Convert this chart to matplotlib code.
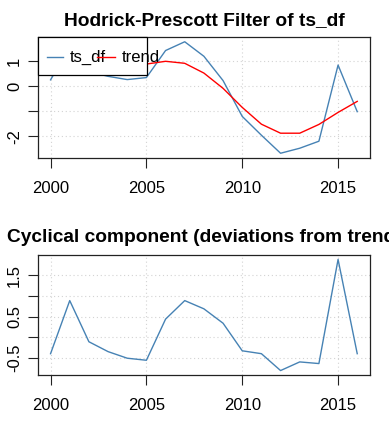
import matplotlib
matplotlib.use("Agg")
import matplotlib.pyplot as plt
import matplotlib.patches as patches

plt.rcParams['font.family'] = ['Liberation Sans', 'DejaVu Sans']

# data
years = list(range(2000, 2017))
ts_df = [0.26, 1.57, 0.59, 0.40, 0.27, 0.35, 1.43, 1.78, 1.20, 0.23,
         -1.20, -1.95, -2.67, -2.47, -2.19, 0.85, -1.01]
trend = [0.66, 0.69, 0.71, 0.75, 0.78, 0.89, 1.00, 0.92, 0.53, -0.08,
         -0.84, -1.51, -1.87, -1.87, -1.52, -1.04, -0.60]
cycle = [-0.40, 0.89, -0.11, -0.35, -0.51, -0.56, 0.44, 0.89, 0.69, 0.34,
         -0.33, -0.40, -0.81, -0.60, -0.64, 1.89, -0.40]

x_ticks = [2000, 2005, 2010, 2015]
top_yticks = [-2, -1, 0, 1]
top_ylabels = ['-2', '', '0', '1']
bot_yticks = [-0.5, 0.0, 0.5, 1.0, 1.5]
bot_ylabels = ['-0.5', '', '0.5', '', '1.5']

W, H = 389, 433
fig = plt.figure(figsize=(W / 100, H / 100), dpi=100)

def px_axes(l, t, r, b):
    return fig.add_axes([l / W, 1 - b / H, (r - l) / W, (b - t) / H])

ax1 = px_axes(38.3, 37.3, 369.5, 157.7)
ax2 = px_axes(38.3, 255.0, 369.5, 375.0)

def r_range(vals):
    lo, hi = min(vals), max(vals)
    d = (hi - lo) * 0.04
    return lo - d, hi + d

def style(ax, yticks, ylabels):
    ax.set_xlim(r_range(years))
    ax.set_xticks(x_ticks)
    ax.set_yticks(yticks)
    ax.set_yticklabels(ylabels)
    ax.tick_params(axis='both', length=7.2, width=0.8, labelsize=12,
                   color='#222222')
    ax.tick_params(axis='x', pad=9.5)
    ax.tick_params(axis='y', pad=4.5)
    for lab in ax.get_yticklabels():
        lab.set_rotation(90)
        lab.set_va('center')
    for s in ax.spines.values():
        s.set_linewidth(0.9)
        s.set_color('#222222')
    for x in x_ticks:
        ax.axvline(x, color='lightgray', ls=(0, (1, 2.5)), lw=0.8, zorder=0)
    for y in yticks:
        ax.axhline(y, color='lightgray', ls=(0, (1, 2.5)), lw=0.8, zorder=0)

# top: series and HP trend
ax1.plot(years, ts_df, color='steelblue', lw=1.0, zorder=2)
ax1.plot(years, trend, color='red', lw=1.0, zorder=2)
ax1.set_ylim(r_range(ts_df))
style(ax1, top_yticks, top_ylabels)
ax1.set_title('Hodrick-Prescott Filter of ts_df', fontsize=13.8,
              fontweight='bold', pad=8.5)

# legend drawn like R's horiz legend (text spills out of the box)
ax1.add_patch(patches.Rectangle((0, 0.683), 0.328, 0.317, transform=ax1.transAxes,
                                facecolor='white', edgecolor='black', lw=0.9,
                                zorder=5, clip_on=False))
ax1.plot([0.025, 0.076], [0.833, 0.833], transform=ax1.transAxes,
         color='steelblue', lw=1.0, zorder=6)
ax1.text(0.096, 0.833, 'ts_df', transform=ax1.transAxes, fontsize=12,
         va='center', ha='left', zorder=6)
ax1.plot([0.177, 0.232], [0.833, 0.833], transform=ax1.transAxes,
         color='red', lw=1.0, zorder=7)
ax1.text(0.252, 0.833, 'trend', transform=ax1.transAxes, fontsize=12,
         va='center', ha='left', zorder=7)

# bottom: cyclical component
ax2.plot(years, cycle, color='steelblue', lw=1.0, zorder=2)
ax2.set_ylim(r_range(cycle))
style(ax2, bot_yticks, bot_ylabels)
ax2.set_title('Cyclical component (deviations from trend)', fontsize=13.8,
              fontweight='bold', pad=9.5)

fig.savefig('out.png', dpi=100)
